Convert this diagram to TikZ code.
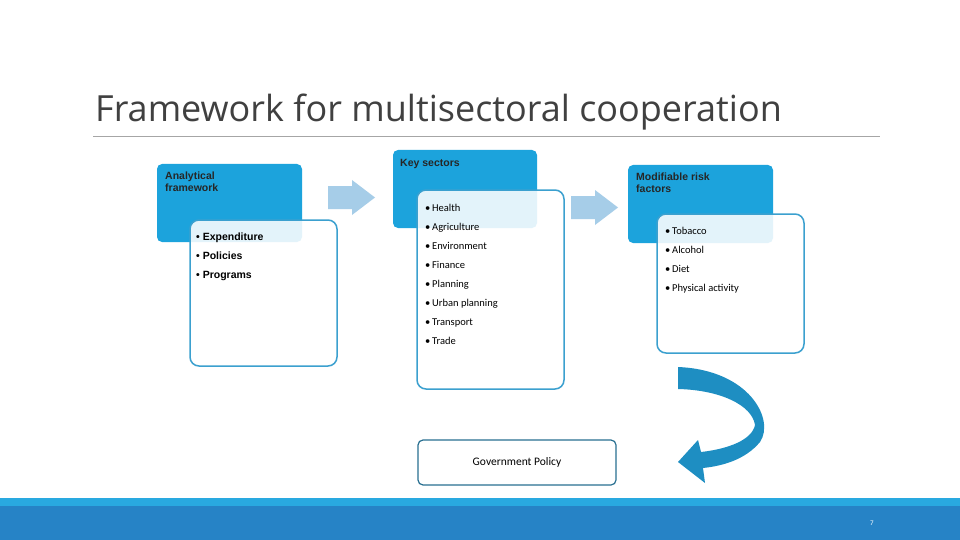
\documentclass[tikz,border=0pt]{standalone}
\usepackage{fontspec}
\setmainfont{Carlito}
\newfontfamily\arialf{Liberation Sans}
\newfontfamily\titlef{Open Sans}
\definecolor{hdr}{HTML}{1CA3DC}
\definecolor{brd}{HTML}{3BA0CF}
\definecolor{arr}{HTML}{A6CDE8}
\definecolor{band1}{HTML}{29A9E0}
\definecolor{band2}{HTML}{2683C6}
\definecolor{curv}{HTML}{1E8EC2}
\definecolor{rulec}{HTML}{A6A6A6}
\begin{document}
\begin{tikzpicture}[x=1pt,y=-1pt,
  hdrbox/.style={fill=hdr,rounded corners=5pt},
  contbox/.style={draw=brd,line width=1.5pt,fill=white,fill opacity=0.88,rounded corners=9pt},
  hdrtext/.style={anchor=north west,font=\arialf\bfseries\fontsize{10.5}{12}\selectfont,align=left,inner sep=0pt,text=black!85},
  items/.style={anchor=north west,font=\fontsize{10.5}{19}\selectfont,align=left,inner sep=0pt},
  blockarrow/.style={fill=arr}]
\useasboundingbox (0,0) rectangle (960,540);
\fill[white] (0,0) rectangle (960,540);
% title
\node[anchor=base west,inner sep=0pt,font=\titlef\fontsize{36}{40}\selectfont,text=black!75] (title) at (95,122) {Framework for multisectoral cooperation};
\draw[rulec,line width=0.8pt] (93,136) -- (880,136);
% bottom bands
\fill[band1] (0,498) rectangle (960,506);
\fill[band2] (0,506) rectangle (960,540);
\node[text=white,font=\fontsize{7}{8}\selectfont] (pg) at (872,523) {7};
% box 1
\fill[hdrbox] (157,164) rectangle (302,242);
\node[hdrtext] (h1) at (165,172) {Analytical\\framework};
\draw[contbox] (190,220) rectangle (337,366);
\node[items,font=\arialf\bfseries\fontsize{10.5}{19}\selectfont] (c1) at (196,233) {\textbullet\ Expenditure\\\textbullet\ Policies\\\textbullet\ Programs};
% arrow 1
\fill[blockarrow] (328,186) -- (352,186) -- (352,180) -- (375,197.5) -- (352,215) -- (352,209) -- (328,209) -- cycle;
% box 2
\fill[hdrbox] (393,150) rectangle (537,228);
\node[hdrtext] (h2) at (400,159) {Key sectors};
\draw[contbox] (417,190) rectangle (564,389);
\node[items] (c2) at (425,204) {\textbullet\,Health\\\textbullet\,Agriculture\\\textbullet\,Environment\\\textbullet\,Finance\\\textbullet\,Planning\\\textbullet\,Urban planning\\\textbullet\,Transport\\\textbullet\,Trade};
% arrow 2
\fill[blockarrow] (571,196) -- (595,196) -- (595,190) -- (618,207.5) -- (595,225) -- (595,219) -- (571,219) -- cycle;
% box 3
\fill[hdrbox] (628,165) rectangle (773,243);
\node[hdrtext] (h3) at (636,173) {Modifiable risk\\factors};
\draw[contbox] (657,214) rectangle (804,353);
\node[items] (c3) at (665,227) {\textbullet\,Tobacco\\\textbullet\,Alcohol\\\textbullet\,Diet\\\textbullet\,Physical activity};
% government policy
\node[draw=brd!70!black,line width=1.2pt,rounded corners=5pt,minimum width=198pt,minimum height=45pt,font=\fontsize{11.5}{13}\selectfont] (gov) at (517,462.5) {Government Policy};
% curved arrow
\fill[curv] (678,367) .. controls (750,370) and (775,420) .. (760,442)
  .. controls (745,460) and (722,466) .. (703,468) -- (705,483) -- (678,462) -- (698,440) -- (701,452)
  .. controls (728,449) and (752,440) .. (755,425)
  .. controls (752,405) and (720,390) .. (678,389) -- cycle;
\end{tikzpicture}
\end{document}
